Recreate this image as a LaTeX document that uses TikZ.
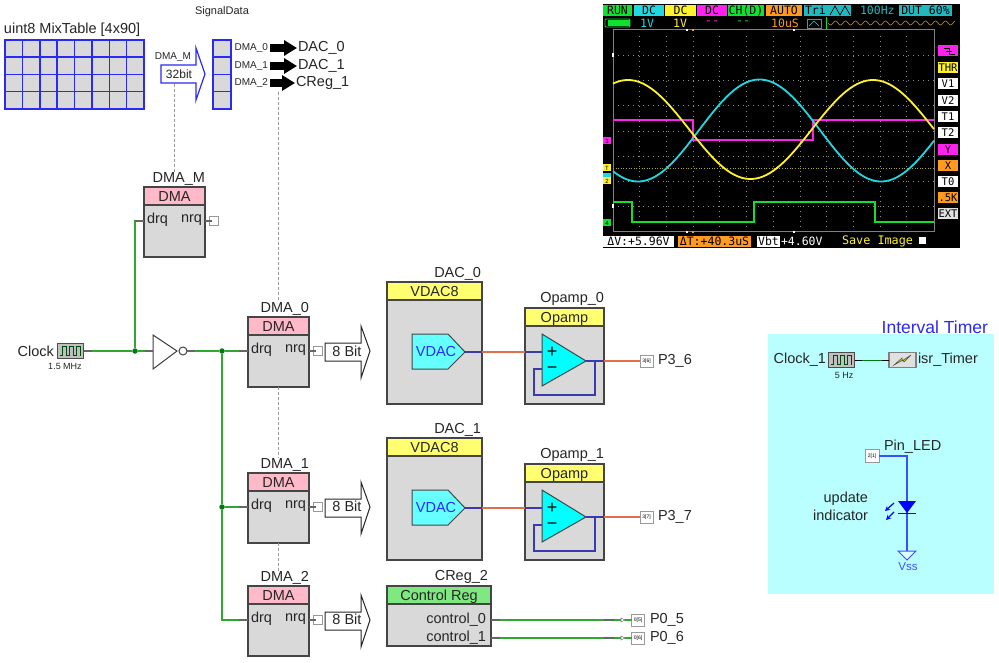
\documentclass[tikz,border=0pt]{standalone}
\usepackage{fontspec}
\usepackage{xcolor}
\setmainfont{Liberation Sans}
\newfontfamily\scopefont{DejaVu Sans Mono}
\usetikzlibrary{arrows.meta,positioning}
\definecolor{dmapink}{HTML}{FFB9C9}
\definecolor{blockyellow}{HTML}{FFFF70}
\definecolor{regreen}{HTML}{80E880}
\definecolor{bodygray}{HTML}{D9D9D9}
\definecolor{edgegray}{HTML}{454545}
\definecolor{wiregreen}{HTML}{2FA82F}
\definecolor{dotgreen}{HTML}{007A14}
\definecolor{wireblue}{HTML}{3A3AAE}
\definecolor{wireorange}{HTML}{E0704A}
\definecolor{tableblue}{HTML}{2A2AF5}
\definecolor{ledblue}{HTML}{3A50FF}
\definecolor{panelcyan}{HTML}{BAFFFF}
\definecolor{vdaccyan}{HTML}{66FFFF}
\definecolor{opampcyan}{HTML}{00FFFF}
\definecolor{scopecyan}{HTML}{22D8E0}
\definecolor{scopeyellow}{HTML}{FFF22A}
\definecolor{scopepink}{HTML}{FF22EE}
\definecolor{scopegreen}{HTML}{10E030}
\definecolor{scopeorange}{HTML}{FF9A20}
\definecolor{scopeteal}{HTML}{22B8C0}
\tikzset{
  txt/.style={inner sep=0pt,outer sep=0pt,font=\fontsize{14.5}{16}\selectfont,text=black!85},
  smalltxt/.style={txt,font=\fontsize{10}{12}\selectfont},
  tinytxt/.style={txt,font=\fontsize{9}{10}\selectfont},
  signtxt/.style={txt,font=\fontsize{18}{18}\selectfont,text=black},
  blockbody/.style={draw=edgegray,fill=bodygray,line width=1.2pt,anchor=north west,inner sep=0pt,outer sep=0pt},
  titlebar/.style={draw=edgegray,line width=1.2pt,anchor=north west,inner sep=0pt,outer sep=0pt,minimum height=18pt,text height=10.5pt,text depth=0pt,font=\fontsize{14.5}{16}\selectfont,text=black!85},
  endbox/.style={draw=black!40,fill=white,line width=0.8pt,inner sep=0pt,outer sep=0pt,minimum width=13pt,minimum height=12pt,font=\fontsize{5}{5}\selectfont},
  nrqbox/.style={draw=black!40,fill=white,line width=0.8pt,inner sep=0pt,outer sep=0pt,minimum width=9pt,minimum height=9pt},
  clockbox/.style={draw=black!70,fill=black!25,line width=1.6pt,inner sep=0pt,outer sep=0pt,minimum width=26pt,minimum height=15pt},
  greenwire/.style={draw=wiregreen,line width=1.6pt},
  stubwire/.style={draw=black!60,line width=1.4pt},
  tapline/.style={draw=black!40,line width=0.7pt,densely dashed},
  jointdot/.style={circle,fill=dotgreen,inner sep=0pt,outer sep=0pt,minimum size=5.5pt},
  busarrow/.style={draw=black!85,fill=white,line width=1pt},
  sigarrow/.style={draw=black,line width=8.5pt,-{Triangle[length=13pt,width=15pt]},shorten <=2pt,shorten >=1pt},
  griddot/.style={draw=black!45,line width=0.7pt,dash pattern=on 1pt off 4pt},
  scopebtn/.style={inner sep=0pt,outer sep=0pt,anchor=north west,minimum height=11pt,text=black,font=\scopefont\fontsize{11.5}{11}\selectfont},
  scopetxt/.style={inner sep=0pt,outer sep=0pt,font=\scopefont\fontsize{11.5}{11}\selectfont},
  sidebtn/.style={scopebtn,minimum width=20pt,fill=white,font=\scopefont\fontsize{10.5}{11}\selectfont},
  scopemark/.style={inner sep=0pt,outer sep=0pt,minimum width=8pt,minimum height=7pt,text=black,font=\fontsize{6}{6}\selectfont},
  clockwave/.pic={\draw[draw=dotgreen!60!black,line width=1.4pt] (-11,4.5) -- ++(3,0) -- ++(0,-9) -- ++(4,0) -- ++(0,9) -- ++(3,0) -- ++(0,-9) -- ++(4,0) -- ++(0,9) -- ++(3,0) -- ++(0,-9) -- ++(4,0) -- ++(0,9);},
}
\begin{document}
\begin{tikzpicture}[x=1pt,y=-1pt]
\useasboundingbox (0,0) rectangle (999,663);
\fill[white] (0,0) rectangle (999,663);
% Drawing the table and the signal data
\node[txt,anchor=south west] (tablename) at (4,37) {uint8 MixTable [4x90]};
\filldraw[fill=bodygray,draw=tableblue,line width=1.4pt] (5,40) rectangle (144,109);
\draw[tableblue,line width=1.4pt] (22.4,40) -- (22.4,109) (39.8,40) -- (39.8,109) (57.1,40) -- (57.1,109) (74.5,40) -- (74.5,109) (91.9,40) -- (91.9,109) (109.3,40) -- (109.3,109) (126.6,40) -- (126.6,109);
\draw[tableblue,line width=1.4pt] (5,57.2) -- (144,57.2) (5,74.5) -- (144,74.5) (5,91.8) -- (144,91.8);
\filldraw[fill=white,draw=tableblue,line width=1.2pt] (161,65) -- (196,65) -- (196,48) -- (205,74) -- (196,100) -- (196,83) -- (161,83) -- cycle;
\node[tinytxt,font=\fontsize{10}{12}\selectfont] (busname) at (173,57) {DMA\_M};
\node[smalltxt,font=\fontsize{12}{12}\selectfont] (buswidth) at (179,74) {32bit};
\node[smalltxt,font=\fontsize{11}{12}\selectfont] (signaldata) at (222,12) {SignalData};
\filldraw[fill=bodygray,draw=tableblue,line width=1.4pt] (213,40) rectangle (231,109);
\draw[tableblue,line width=1.4pt] (213,57.2) -- (231,57.2) (213,74.5) -- (231,74.5) (213,91.8) -- (231,91.8);
\node[smalltxt,anchor=east] (src0) at (268,48) {DMA\_0};
\node[smalltxt,anchor=east] (src1) at (268,66) {DMA\_1};
\node[smalltxt,anchor=east] (src2) at (268,83) {DMA\_2};
\node[txt,anchor=west] (dst0) at (298,48) {DAC\_0};
\node[txt,anchor=west] (dst1) at (298,66) {DAC\_1};
\node[txt,anchor=west] (dst2) at (296,83) {CReg\_1};
\draw[sigarrow] (src0) -- (dst0);
\draw[sigarrow] (src1) -- (dst1);
\draw[sigarrow] (src2) -- (dst2);
\coordinate (tapM) at (174,84);
\coordinate (tap0) at (278,92);
% Drawing the DMA blocks
\node[blockbody,minimum width=61pt,minimum height=70pt] (dmaM) at (144,187) {};
\node[titlebar,fill=dmapink,minimum width=61pt] (dmaMtitle) at (dmaM.north west) {DMA};
\node[txt,anchor=south east] (dmaMname) at (205,185) {DMA\_M};
\node[txt,anchor=west] (drqM) at (147,220) {drq};
\node[txt,anchor=east] (nrqM) at (202,220) {nrq};
\node[nrqbox] (doneM) at (213.5,221) {};
\node[blockbody,minimum width=61pt,minimum height=70pt] (dma0) at (248,317) {};
\node[titlebar,fill=dmapink,minimum width=61pt] (dma0title) at (dma0.north west) {DMA};
\node[txt,anchor=south east] (dma0name) at (309,315) {DMA\_0};
\node[txt,anchor=west] (drq0) at (251,350) {drq};
\node[txt,anchor=east] (nrq0) at (306,350) {nrq};
\node[nrqbox] (done0) at (317.5,351) {};
\node[blockbody,minimum width=61pt,minimum height=70pt] (dma1) at (248,473) {};
\node[titlebar,fill=dmapink,minimum width=61pt] (dma1title) at (dma1.north west) {DMA};
\node[txt,anchor=south east] (dma1name) at (309,471) {DMA\_1};
\node[txt,anchor=west] (drq1) at (251,506) {drq};
\node[txt,anchor=east] (nrq1) at (306,506) {nrq};
\node[nrqbox] (done1) at (317.5,507) {};
\node[blockbody,minimum width=61pt,minimum height=70pt] (dma2) at (248,586) {};
\node[titlebar,fill=dmapink,minimum width=61pt] (dma2title) at (dma2.north west) {DMA};
\node[txt,anchor=south east] (dma2name) at (309,584) {DMA\_2};
\node[txt,anchor=west] (drq2) at (251,619) {drq};
\node[txt,anchor=east] (nrq2) at (306,619) {nrq};
\node[nrqbox] (done2) at (317.5,620) {};
\draw[tapline] (tapM) -- (tapM |- dmaMname.north);
\draw[tapline] (tap0) -- (tap0 |- dma0name.north);
\draw[tapline] (dma0.south) -- (dma1name.north -| dma0.south);
\draw[tapline] (dma1.south) -- (dma2name.north -| dma1.south);
% Drawing the 8 bit arrows
\draw[busarrow] (325,343) -- ++(36,0) -- ++(0,-17) -- ++(9,25) -- ++(-9,27) -- ++(0,-17) -- ++(-36,0) -- cycle;
\node[txt] (bus0) at (347,351) {8 Bit};
\draw[busarrow] (325,499) -- ++(36,0) -- ++(0,-17) -- ++(9,25) -- ++(-9,27) -- ++(0,-17) -- ++(-36,0) -- cycle;
\node[txt] (bus1) at (347,506.5) {8 Bit};
\draw[busarrow] (325,612) -- ++(36,0) -- ++(0,-17) -- ++(9,25) -- ++(-9,27) -- ++(0,-17) -- ++(-36,0) -- cycle;
\node[txt] (bus2) at (347,619.5) {8 Bit};
% Drawing the VDAC and Opamp blocks
\node[blockbody,minimum width=95pt,minimum height=122pt] (dac0) at (387,282) {};
\node[titlebar,fill=blockyellow,minimum width=95pt] (dac0title) at (dac0.north west) {VDAC8};
\node[txt,anchor=south east] (dac0name) at (481,280) {DAC\_0};
\filldraw[fill=vdaccyan,draw=edgegray,line width=1pt] (412,334) -- (448,334) -- (465,352) -- (448,369) -- (412,369) -- cycle;
\node[txt,text=tableblue] (vdac0) at (436,352) {VDAC};
\coordinate (vdac0out) at (465,352);
\node[blockbody,minimum width=79pt,minimum height=96pt] (opa0) at (525,308) {};
\node[titlebar,fill=blockyellow,minimum width=79pt] (opa0title) at (opa0.north west) {Opamp};
\node[txt,anchor=south east] (opa0name) at (604,306) {Opamp\_0};
\filldraw[fill=opampcyan,draw=edgegray,line width=1pt] (542,334) -- (586,361) -- (542,386) -- cycle;
\node[signtxt] (opa0plus) at (552,352) {+};
\node[signtxt] (opa0minus) at (552,370) {−};
\coordinate (opa0in) at (542,352);
\coordinate (opa0out) at (586,361);
\node[endbox] (pin36) at (646.5,361) {3[6]};
\node[txt,anchor=west] (pin36name) at (658,361) {P3\_6};
\node[blockbody,minimum width=95pt,minimum height=122pt] (dac1) at (387,438) {};
\node[titlebar,fill=blockyellow,minimum width=95pt] (dac1title) at (dac1.north west) {VDAC8};
\node[txt,anchor=south east] (dac1name) at (481,436) {DAC\_1};
\filldraw[fill=vdaccyan,draw=edgegray,line width=1pt] (412,490) -- (448,490) -- (465,508) -- (448,525) -- (412,525) -- cycle;
\node[txt,text=tableblue] (vdac1) at (436,508) {VDAC};
\coordinate (vdac1out) at (465,508);
\node[blockbody,minimum width=79pt,minimum height=96pt] (opa1) at (525,464) {};
\node[titlebar,fill=blockyellow,minimum width=79pt] (opa1title) at (opa1.north west) {Opamp};
\node[txt,anchor=south east] (opa1name) at (604,462) {Opamp\_1};
\filldraw[fill=opampcyan,draw=edgegray,line width=1pt] (542,490) -- (586,517) -- (542,542) -- cycle;
\node[signtxt] (opa1plus) at (552,508) {+};
\node[signtxt] (opa1minus) at (552,526) {−};
\coordinate (opa1in) at (542,508);
\coordinate (opa1out) at (586,517);
\node[endbox] (pin37) at (646.5,517) {3[7]};
\node[txt,anchor=west] (pin37name) at (658,517) {P3\_7};
% Drawing the control register
\node[blockbody,minimum width=104pt,minimum height=60pt] (creg) at (387,586) {};
\node[titlebar,fill=regreen,minimum width=104pt] (cregtitle) at (creg.north west) {Control Reg};
\node[txt,anchor=south east] (cregname) at (488,584) {CReg\_2};
\node[txt,anchor=east] (ctrl0) at (486,620) {control\_0};
\node[txt,anchor=east] (ctrl1) at (486,638) {control\_1};
\node[endbox] (pin05) at (638,620) {0[5]};
\node[txt,anchor=west] (pin05name) at (650,620) {P0\_5};
\node[endbox] (pin06) at (638,638) {0[6]};
\node[txt,anchor=west] (pin06name) at (650,638) {P0\_6};
% Drawing the clock and the inverter
\node[txt,anchor=east] (clockname) at (54,351) {Clock};
\node[clockbox] (clock) at (70.5,351) {};
\pic at (clock) {clockwave};
\node[tinytxt] (clockfreq) at (65,366) {1.5 MHz};
\filldraw[fill=white,draw=black!75,line width=1pt] (153,335) -- (177,351) -- (153,369) -- cycle;
\node[circle,draw=black!75,fill=white,line width=1pt,inner sep=0pt,outer sep=0pt,minimum size=8pt] (invout) at (183,351) {};
\coordinate (invin) at (153,351);
\node[jointdot] (joint1) at (135,351) {};
\node[jointdot] (joint2) at (222,351) {};
\node[jointdot] (joint3) at (222,507) {};
% Drawing wires
\draw[greenwire] (clock.east) -- (joint1);
\draw[greenwire] (joint1) -- (invin);
\draw[greenwire] (joint1) |- (dmaM.west |- doneM);
\draw[greenwire] (invout.east) -- (joint2);
\draw[greenwire] (joint2) -- (dma0.west |- joint2);
\draw[greenwire] (joint2) -- (joint3);
\draw[greenwire] (joint3) |- (dma2.west |- done2);
\draw[greenwire] (joint3) -- (dma1.west |- joint3);
\draw[stubwire] (dmaM.west |- doneM) -- ++(-9,0);
\draw[stubwire] (dma0.west |- done0) -- ++(-9,0);
\draw[stubwire] (dma1.west |- done1) -- ++(-9,0);
\draw[stubwire] (dma2.west |- done2) -- ++(-9,0);
\draw[stubwire] (dmaM.east |- doneM) -- ([xshift=3pt]doneM.west);
\draw[stubwire] (dma0.east |- done0) -- ([xshift=3pt]done0.west);
\draw[stubwire] (dma1.east |- done1) -- ([xshift=3pt]done1.west);
\draw[stubwire] (dma2.east |- done2) -- ([xshift=3pt]done2.west);
\draw[stubwire] (clock.east) -- ++(8,0);
\draw[stubwire] (invin) -- ++(-8,0);
\draw[stubwire] (invout.east) -- ++(8,0);
\draw[wireorange,line width=1.2pt] (vdac0out) -- (opa0in);
\draw[wireblue,line width=1.2pt] (vdac0out) -- (dac0.east |- vdac0out);
\draw[wireblue,line width=1.2pt] (opa0in) -- ++(-17,0);
\draw[wireorange,line width=1.2pt] (opa0out) -- (pin36.west);
\draw[wireblue,line width=1.2pt] (opa0out) -- (opa0.east |- opa0out);
\draw[wireblue,line width=1.2pt] (opa0out) -- ++(9,0) -- ++(0,34) -- ++(-61,0) -- ++(0,-26) -- ++(8,0);
\draw[wireorange,line width=1.2pt] (vdac1out) -- (opa1in);
\draw[wireblue,line width=1.2pt] (vdac1out) -- (dac1.east |- vdac1out);
\draw[wireblue,line width=1.2pt] (opa1in) -- ++(-17,0);
\draw[wireorange,line width=1.2pt] (opa1out) -- (pin37.west);
\draw[wireblue,line width=1.2pt] (opa1out) -- (opa1.east |- opa1out);
\draw[wireblue,line width=1.2pt] (opa1out) -- ++(9,0) -- ++(0,34) -- ++(-61,0) -- ++(0,-26) -- ++(8,0);
\draw[greenwire] (creg.east |- pin05) -- (pin05.west);
\draw[greenwire] (creg.east |- pin06) -- (pin06.west);
\draw[stubwire] (creg.east |- pin05) -- ++(9,0);
\draw[stubwire] (creg.east |- pin06) -- ++(9,0);
\draw[stubwire] (604,620) -- ++(10,0);
\draw[stubwire] (604,638) -- ++(10,0);
\filldraw[fill=white,draw=black!50,line width=0.6pt] (621,618) -- (625,620) -- (621,622) -- cycle;
\filldraw[fill=white,draw=black!50,line width=0.6pt] (621,636) -- (625,638) -- (621,640) -- cycle;
% Drawing the interval timer panel
\fill[panelcyan] (768,334) rectangle (994,594);
\node[txt,anchor=east,text=tableblue,font=\fontsize{17.5}{18}\selectfont] (panelname) at (988,327) {Interval Timer};
\node[txt,anchor=east] (clock1name) at (826,360) {Clock\_1};
\node[clockbox] (clock1) at (841.5,360) {};
\pic at (clock1) {clockwave};
\node[tinytxt] (clock1freq) at (844,375) {5 Hz};
\node[draw=black!50,fill=black!12,line width=1.2pt,inner sep=0pt,outer sep=0pt,minimum width=27pt,minimum height=15pt] (isr) at (902.5,360) {};
\filldraw[fill=yellow!80!black,draw=black!70,line width=0.5pt] (894,365) -- (902,358) -- (902,361) -- (911,355) -- (904,362) -- (903,360) -- cycle;
\node[txt,anchor=west] (isrname) at (918,360) {isr\_Timer};
\draw[draw=dotgreen,line width=1pt] (clock1.east) -- (isr.west);
\draw[draw=black,line width=1pt] (clock1.east) -- ++(7,0);
\draw[draw=black,line width=1pt] (isr.west) -- ++(-7,0);
\node[endbox,minimum width=14pt,minimum height=13pt] (pinled) at (872,456) {2[1]};
\node[txt,anchor=west] (pinledname) at (884,447) {Pin\_LED};
\node[inner sep=0pt,outer sep=0pt,minimum size=1pt] (ledtop) at (907,502) {};
\node[inner sep=0pt,outer sep=0pt,minimum size=1pt] (vssnode) at (907,551) {};
\draw[ledblue,line width=1.8pt] (pinled.east) -| (ledtop);
\draw[ledblue,line width=1.8pt] (ledtop) -- (vssnode);
\fill[blue] (898,501) -- (916,501) -- (907,513) -- cycle;
\draw[blue,line width=1.8pt] (898,513.5) -- (916,513.5);
\filldraw[fill=white!50!panelcyan,draw=ledblue,line width=1pt] (898,551) -- (916,551) -- (907,560) -- cycle;
\node[txt,text=ledblue,font=\fontsize{11.5}{12}\selectfont] (vssname) at (908,567) {Vss};
\node[txt,anchor=east] (ledname1) at (868,499) {update};
\node[txt,anchor=east] (ledname2) at (868,515) {indicator};
\draw[blue,line width=1.2pt,-{Stealth[length=5pt,width=5pt]}] (894,503) -- (885,511);
\draw[blue,line width=1.2pt,-{Stealth[length=5pt,width=5pt]}] (894,512) -- (886,520);
% Drawing the oscilloscope screen
\fill[black] (603,4) rectangle (960,248);
\node[scopebtn,fill=scopegreen,minimum width=29pt] (btnrun) at (603,5) {RUN};
\node[scopebtn,fill=scopecyan,minimum width=30pt] (btnc1) at (634,5) {DC};
\node[scopebtn,fill=scopeyellow,minimum width=31pt] (btnc2) at (665,5) {DC};
\node[scopebtn,fill=scopepink,minimum width=30pt] (btnc3) at (697,5) {DC};
\node[scopebtn,fill=scopegreen,minimum width=36pt] (btnc4) at (728,5) {CH(D)};
\node[scopebtn,fill=scopeorange,minimum width=36pt] (btnauto) at (766,5) {AUTO};
\fill[scopeteal] (804,5) rectangle (851,16);
\node[scopetxt,anchor=west,text=black] (btntri) at (805,10.5) {Tri};
\draw[black,line width=0.7pt] (830,15) -- (835,6) -- (840,15) -- (845,6) -- (850,15);
\node[scopetxt,anchor=west,text=scopeteal] (btnfreq) at (860,10.5) {100Hz};
\node[scopebtn,fill=scopeteal,minimum width=53pt] (btnduty) at (899,5) {DUT 60\%};
\draw[scopegreen,line width=0.8pt,rounded corners=1pt] (605,19) rectangle (630,27);
\fill[scopegreen] (608,20) rectangle (630,26);
\node[scopetxt,text=scopecyan] (volt1) at (647,23) {1V};
\node[scopetxt,text=scopeyellow] (volt2) at (680,23) {1V};
\node[scopetxt,text=scopepink] (volt3) at (712,23) {-{}-};
\node[scopetxt,text=scopegreen] (volt4) at (743,23) {-{}-};
\node[scopetxt,text=scopeorange] (timebase) at (785,23) {10uS};
\draw[black!50,line width=0.8pt] (807,19) rectangle (821,28);
\draw[scopecyan,line width=0.6pt] (809,26) -- (814,21) -- (819,26);
\fill[scopegreen] (825.5,17) rectangle (826.5,29);
\draw[scopeorange!80!black,line width=0.7pt] plot[domain=828:955,samples=130] (\x,{23+2*sin((\x-828)*36)});
\draw[griddot] (639.7,36) -- (639.7,228) (666.4,36) -- (666.4,228) (693.1,36) -- (693.1,228) (719.8,36) -- (719.8,228) (746.5,36) -- (746.5,228) (773.2,36) -- (773.2,228) (799.9,36) -- (799.9,228) (826.6,36) -- (826.6,228) (853.3,36) -- (853.3,228) (880,36) -- (880,228) (906.7,36) -- (906.7,228);
\draw[griddot] (613,55) -- (934,55) (613,80) -- (934,80) (613,105) -- (934,105) (613,131) -- (934,131) (613,156) -- (934,156) (613,181) -- (934,181) (613,206) -- (934,206);
\draw[black!50,line width=1pt] (613,30) rectangle (934,232);
\draw[white,line width=1.4pt] (613,53) -- (613,57) (613,204) -- (613,208) (686,30) -- (688,30) (793,30) -- (795,30) (686,232) -- (688,232) (793,232) -- (795,232);
\draw[scopeorange,line width=1.2pt] (692,30) -- (694,30) (692,232) -- (694,232);
\draw[scopeyellow!70!black,line width=0.6pt,dotted] (613,168) -- (934,168);
\draw[scopepink,line width=1.8pt] (613,120) -- (693,120) -- (693,140) -- (813,140) -- (813,120) -- (934,120);
\draw[scopegreen,line width=1.8pt] (613,202) -- (632,202) -- (632,222) -- (754,222) -- (754,202) -- (875,202) -- (875,222) -- (934,222);
\draw[scopecyan,line width=1.8pt] plot[domain=613:934,samples=160] (\x,{130.5+51*cos((\x-638)/243*360)});
\draw[scopeyellow,line width=1.8pt] plot[domain=613:934,samples=160] (\x,{129.5-49.5*cos((\x-628)/245*360)});
\node[scopemark,fill=scopepink] (mark3) at (607,141) {3};
\node[scopemark,fill=scopeyellow] (markt) at (607,168) {T};
\node[scopemark,fill=scopecyan,minimum height=4pt] (mark1) at (607,175) {};
\node[scopemark,fill=scopeyellow] (mark2) at (607,181) {2};
\node[scopemark,fill=scopegreen] (mark4) at (607,223) {4};
\node[sidebtn,fill=scopepink] (sidetrig) at (938,45) {};
\draw[black,line width=0.8pt] (944,48) -- (949,48) -- (949,54) -- (955,54) (946,51) -- (952,51);
\node[sidebtn,fill=scopeyellow] (sidethr) at (938,62) {THR};
\node[sidebtn] (sidev1) at (938,78) {V1};
\node[sidebtn] (sidev2) at (938,95) {V2};
\node[sidebtn] (sidet1) at (938,111) {T1};
\node[sidebtn] (sidet2) at (938,127) {T2};
\node[sidebtn,fill=scopepink] (sidey) at (938,144) {Y};
\node[sidebtn,fill=scopeorange] (sidex) at (938,160) {X};
\node[sidebtn] (sidet0) at (938,176) {T0};
\node[sidebtn,fill=scopeorange] (side5k) at (938,192) {.5K};
\node[sidebtn,fill=black!12] (sideext) at (938,208) {EXT};
\node[scopebtn,fill=white,minimum width=71pt] (readv) at (603,236) {ΔV:+5.96V};
\node[scopebtn,fill=scopeorange,minimum width=73pt] (readt) at (678,236) {ΔT:+40.3uS};
\node[scopebtn,fill=white,minimum width=23pt] (readb) at (757,236) {Vbt};
\node[scopetxt,anchor=west,text=white] (readbv) at (781,241.5) {+4.60V};
\node[scopetxt,anchor=west,text=scopeyellow,font=\scopefont\fontsize{11.8}{12}\selectfont] (saveimg) at (842,241.5) {Save Image};
\node[inner sep=0pt,outer sep=0pt,fill=white,minimum size=7pt] (saveicon) at (922,241) {};
\end{tikzpicture}
\end{document}
